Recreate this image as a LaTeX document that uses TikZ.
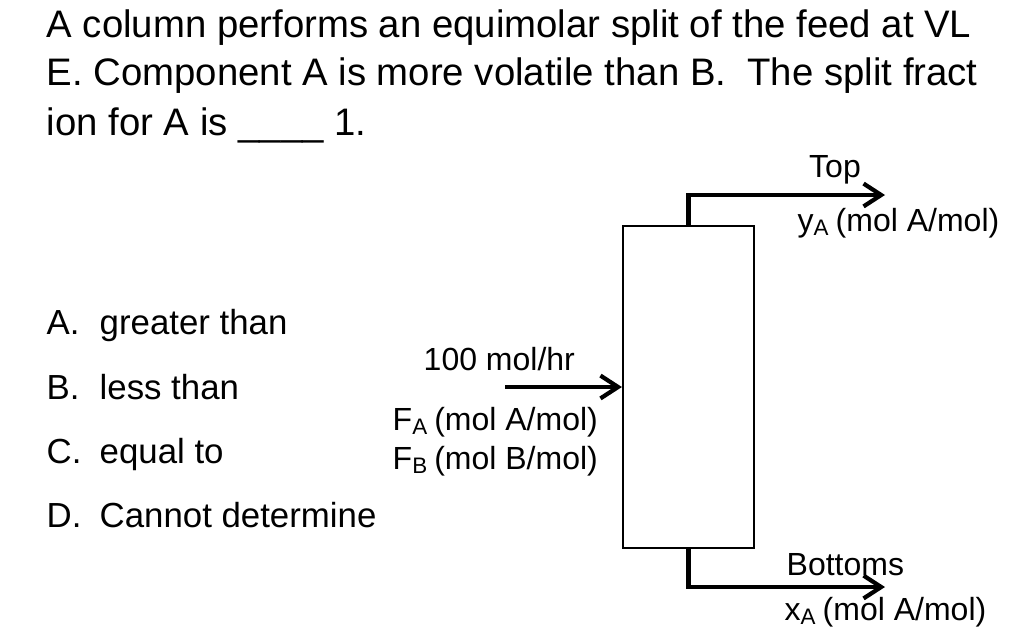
\documentclass[tikz,border=0pt]{standalone}
\usepackage{fontspec}
\setmainfont{Liberation Sans}
\usetikzlibrary{arrows.meta, positioning}

\begin{document}
\begin{tikzpicture}[
    x=0.01cm, y=-0.01cm,
    every node/.style={inner sep=0pt, anchor=base west},
    qtext/.style={font=\fontsize{10.9}{13.9}\selectfont},
    opt/.style={font=\fontsize{9.9}{12}\selectfont},
    lbl/.style={font=\fontsize{9.1}{11}\selectfont},
    stream/.style={line width=1.2pt,
                   -{Straight Barb[length=5pt, width=6.5pt, line width=1.2pt]}},
  ]
    \useasboundingbox (0,0) rectangle (1024,639);

    % Question
    \node[qtext] (q1) at (46,37)  {A column performs an equimolar split of the feed at VL};
    \node[qtext] (q2) at (46,85)  {E. Component A is more volatile than B.\ \ The split fract};
    \node[qtext] (q3) at (46,135) {ion for A is \_\_\_\_ 1.};

    % Answers
    \foreach \k/\L/\y/\txt in {a/A/334/greater than, b/B/399/less than,
                               c/C/463/equal to, d/D/527/Cannot determine}{
      \node[opt] (let-\k) at (46,\y) {\L.};
      \node[opt] (ans-\k) at (99,\y) {\txt};
    }

    % Column
    \node[draw, line width=0.6pt, anchor=center, minimum width=1.31cm,
          minimum height=3.22cm] (col) at (688.5,387) {};

    % Streams
    \coordinate (toptip) at (885,195);
    \coordinate (bottip) at (885,587);
    \coordinate (feedin) at (505,387);
    \draw[stream] (col.north) |- (toptip);
    \draw[stream] (col.south) |- (bottip);
    \draw[stream] (feedin) -- (col.west);

    % Labels
    \node[lbl, anchor=base] (toplbl) at (835,177) {Top};
    \node[lbl] (ylbl) at (797,231) {y\textsubscript{A}\,(mol A/mol)};
    \node[lbl] (botlbl) at (786,575) {Bottoms};
    \node[lbl] (xlbl) at (784,620) {x\textsubscript{A}\,(mol A/mol)};
    \node[lbl] (flow) at (423,370) {100 mol/hr};
    \node[lbl] (fa) at (392,430) {F\textsubscript{A}\,(mol A/mol)};
    \node[lbl] (fb) at (392,469) {F\textsubscript{B}\,(mol B/mol)};
  \end{tikzpicture}
\end{document}
